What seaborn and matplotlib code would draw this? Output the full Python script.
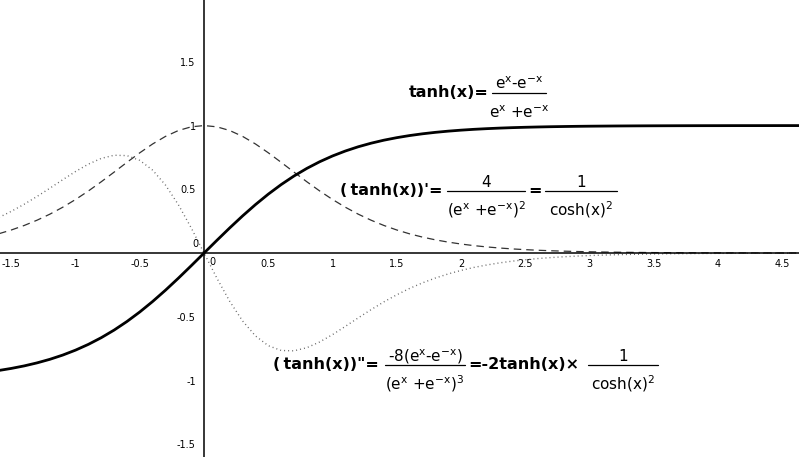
import numpy as np
import pandas as pd
import matplotlib
matplotlib.use("Agg")
import matplotlib.pyplot as plt
from matplotlib.lines import Line2D
from matplotlib.transforms import IdentityTransform
import seaborn as sns

# sample points (x) and values
x_vals = [-1.6, -1.5, -1.4, -1.3, -1.2, -1.1, -1.0, -0.9, -0.8, -0.7, -0.6, -0.5, -0.4, -0.3, -0.2, -0.1,
          0.0, 0.1, 0.2, 0.3, 0.4, 0.5, 0.6, 0.7, 0.8, 0.9, 1.0, 1.1, 1.2, 1.3, 1.4, 1.5, 1.6, 1.7, 1.8, 1.9,
          2.0, 2.1, 2.2, 2.3, 2.4, 2.5, 2.6, 2.7, 2.8, 2.9, 3.0, 3.1, 3.2, 3.3, 3.4, 3.5, 3.6, 3.7, 3.8, 3.9,
          4.0, 4.1, 4.2, 4.3, 4.4, 4.5, 4.6, 4.7]

tanh_vals = [-0.9217, -0.9051, -0.8854, -0.8617, -0.8337, -0.8005, -0.7616, -0.7163, -0.6640, -0.6044,
             -0.5370, -0.4621, -0.3799, -0.2913, -0.1974, -0.0997,
             0.0, 0.0997, 0.1974, 0.2913, 0.3799, 0.4621, 0.5370, 0.6044, 0.6640, 0.7163, 0.7616, 0.8005,
             0.8337, 0.8617, 0.8854, 0.9051, 0.9217, 0.9354, 0.9468, 0.9562, 0.9640, 0.9705, 0.9757, 0.9801,
             0.9837, 0.9866, 0.9890, 0.9910, 0.9926, 0.9940, 0.9951, 0.9959, 0.9967, 0.9973, 0.9978, 0.9982,
             0.9985, 0.9988, 0.9990, 0.9992, 0.9993, 0.9995, 0.9996, 0.9996, 0.9997, 0.9998, 0.9998, 0.9998]

d1_vals = [0.1505, 0.1808, 0.2161, 0.2575, 0.3049, 0.3592, 0.4200, 0.4869, 0.5591, 0.6347, 0.7116,
           0.7864, 0.8557, 0.9151, 0.9610, 0.9901,
           1.0, 0.9901, 0.9610, 0.9151, 0.8557, 0.7864, 0.7116, 0.6347, 0.5591, 0.4869, 0.4200, 0.3592,
           0.3049, 0.2575, 0.2161, 0.1808, 0.1505, 0.1250, 0.1036, 0.0857, 0.0707, 0.0581, 0.0480, 0.0394,
           0.0323, 0.0266, 0.0218, 0.0179, 0.0147, 0.0120, 0.0099, 0.0081, 0.0066, 0.0054, 0.0045, 0.0036,
           0.0030, 0.0024, 0.0020, 0.0016, 0.0013, 0.0011, 0.0009, 0.0007, 0.0006, 0.0005, 0.0004, 0.0003]

d2_vals = [0.2774, 0.3273, 0.3827, 0.4438, 0.5084, 0.5751, 0.6397, 0.6975, 0.7425, 0.7672, 0.7643,
           0.7268, 0.6502, 0.5331, 0.3794, 0.1974,
           0.0, -0.1974, -0.3794, -0.5331, -0.6502, -0.7268, -0.7643, -0.7672, -0.7425, -0.6975, -0.6397,
           -0.5751, -0.5084, -0.4438, -0.3827, -0.3273, -0.2774, -0.2339, -0.1962, -0.1639, -0.1363, -0.1128,
           -0.0937, -0.0772, -0.0635, -0.0525, -0.0431, -0.0355, -0.0292, -0.0239, -0.0197, -0.0161, -0.0132,
           -0.0108, -0.0090, -0.0072, -0.0060, -0.0048, -0.0040, -0.0032, -0.0026, -0.0022, -0.0018, -0.0014,
           -0.0012, -0.0010, -0.0008, -0.0006]

x_ticks = [-1.5, -1, -0.5, 0.5, 1, 1.5, 2, 2.5, 3, 3.5, 4, 4.5]
x_tick_labels = ["-1.5", "-1", "-0.5", "0.5", "1", "1.5", "2", "2.5", "3", "3.5", "4", "4.5"]
y_ticks = [-1.5, -1, -0.5, 0.5, 1, 1.5]
y_tick_labels = ["-1.5", "-1", "-0.5", "0.5", "1", "1.5"]

df = pd.DataFrame({"x": x_vals, "tanh": tanh_vals, "d1": d1_vals, "d2": d2_vals})

sns.set_style("white")
plt.rcParams["font.family"] = ["DejaVu Sans"]
plt.rcParams["mathtext.fontset"] = "dejavusans"
plt.rcParams["mathtext.default"] = "regular"
plt.rcParams["text.color"] = "black"
plt.rcParams["xtick.color"] = "black"
plt.rcParams["ytick.color"] = "black"

W, H = 799, 457
fig = plt.figure(figsize=(W / 100, H / 100), dpi=100)
ax = fig.add_axes([0, 0, 1, 1])

sns.lineplot(data=df, x="x", y="d1", ax=ax, color="#333333", lw=0.9, linestyle=(0, (6, 4)))
sns.lineplot(data=df, x="x", y="d2", ax=ax, color="#666666", lw=1.0, linestyle=(0, (0.7, 2.2)))
sns.lineplot(data=df, x="x", y="tanh", ax=ax, color="black", lw=2.0)

ax.set_xlim(-1.588, 4.63)
ax.set_ylim(-1.6, 1.985)
ax.set_xlabel("")
ax.set_ylabel("")

# axes through the origin
for side in ["top", "right"]:
    ax.spines[side].set_visible(False)
for side in ["left", "bottom"]:
    ax.spines[side].set_position(("data", 0))
    ax.spines[side].set_linewidth(1.1)
    ax.spines[side].set_color("black")

ax.set_xticks(x_ticks)
ax.set_xticklabels(x_tick_labels)
ax.set_yticks(y_ticks)
ax.set_yticklabels(y_tick_labels)
ax.tick_params(axis="x", direction="in", length=4, width=1, labelsize=7, pad=4)
ax.tick_params(axis="y", direction="out", length=4, width=1, labelsize=7, pad=2)
ax.text(0.04, -0.03, "0", fontsize=7, ha="left", va="top")
ax.text(-0.04, 0.03, "0", fontsize=7, ha="right", va="bottom")

# formula labels, placed in pixel coordinates (y measured from the top)
fs = 11.5
fs_frac = 11
px = IdentityTransform()


def bold(x, ybar, s):
    fig.text(x, H - ybar - 4, s, transform=px, fontsize=fs, fontweight="bold",
             ha="left", va="baseline")


def frac(x0, x1, ybar, num, den):
    fig.add_artist(Line2D([x0, x1], [H - ybar, H - ybar], transform=px, color="black", lw=0.9))
    xc = (x0 + x1) / 2
    fig.text(xc, H - ybar + 4, num, transform=px, fontsize=fs_frac, ha="center", va="baseline")
    fig.text(xc, H - ybar - 25, den, transform=px, fontsize=fs_frac, ha="center", va="baseline")


bold(409, 93, "tanh(x)=")
frac(492, 546, 93, "e$^{x}$-e$^{-x}$", "e$^{x}$ +e$^{-x}$")

bold(340, 191, "(\u2009tanh(x))'=")
frac(447, 525, 191, "4", "(e$^{x}$ +e$^{-x}$)$^{2}$")
bold(528, 191, "=")
frac(545, 617, 191, "1", "cosh(x)$^{2}$")

bold(273, 365, '(\u2009tanh(x))"=')
frac(385, 465, 365, "-8(e$^{x}$-e$^{-x}$)", "(e$^{x}$ +e$^{-x}$)$^{3}$")
bold(468, 365, "=-2tanh(x)×")
frac(588, 658, 365, "1", "cosh(x)$^{2}$")

fig.savefig("out.png", dpi=100)
